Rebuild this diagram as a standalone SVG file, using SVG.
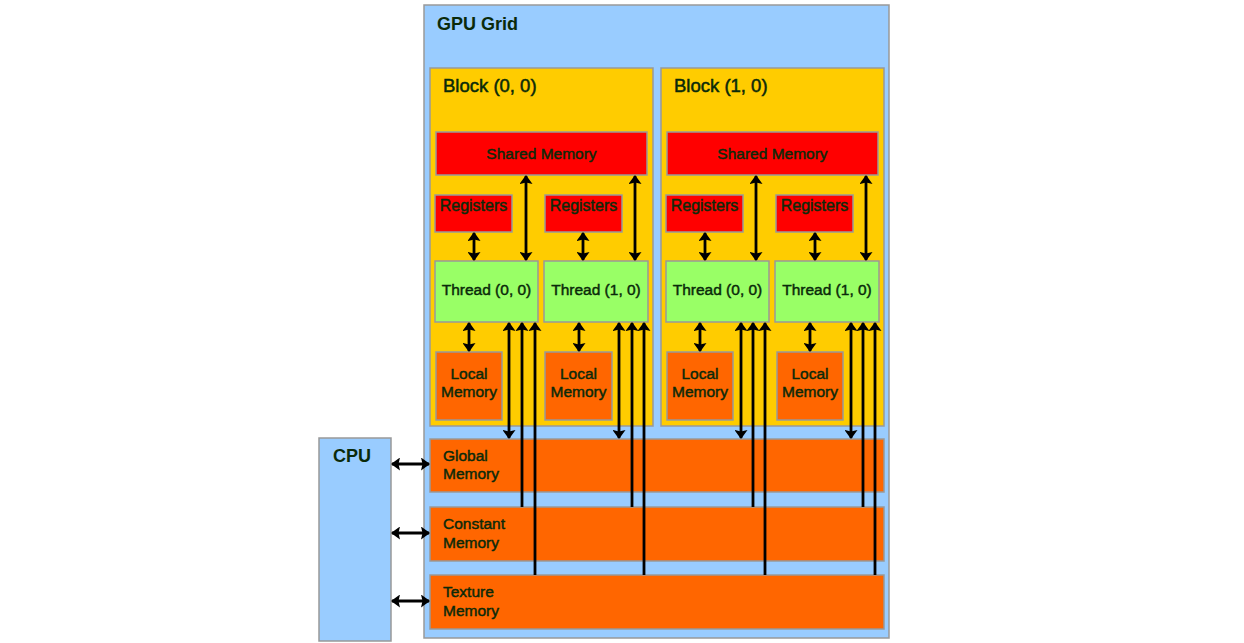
<svg xmlns="http://www.w3.org/2000/svg" width="1244" height="643" viewBox="0 0 1244 643">
<style>
.box{stroke:#999999;stroke-width:1.5}
.grid{fill:#99CCFF}
.block{fill:#FFCC00}
.red{fill:#FF0000}
.thr{fill:#99FF66}
.org{fill:#FF6600}
text{font-family:"Liberation Sans",Arial,sans-serif;fill:#0a2a0a}
.t{font-size:15.5px;stroke:#0a2a0a;stroke-width:0.45}
.c{text-anchor:middle}
.h{font-size:18px;font-weight:bold}
.bl{font-size:18.5px;stroke:#0a2a0a;stroke-width:0.5}
.a{stroke:#000;stroke-width:2.8;fill:none}
.d{marker-start:url(#ah);marker-end:url(#ah)}
.u{marker-start:url(#ah)}
</style>
<defs>
<marker id="ah" viewBox="0 0 9 13" refX="8" refY="6.5" markerWidth="9" markerHeight="13" markerUnits="userSpaceOnUse" orient="auto-start-reverse">
<path d="M0,0 L9,6.5 L0,13 L1.5,6.5 z" fill="#000"/>
</marker>
</defs>
<rect width="1244" height="643" fill="#ffffff"/>
<g id="gpu-grid">
<rect class="box grid" x="424" y="5" width="465" height="633"/>
<text class="h" x="437" y="30">GPU Grid</text>
</g>
<g id="cpu">
<rect class="box grid" x="319" y="438" width="72" height="203"/>
<text class="h" x="333" y="462">CPU</text>
</g>
<g id="block-0-0">
<rect class="box block" x="430" y="68" width="223" height="358"/>
<text class="bl" x="443" y="92">Block (0, 0)</text>
</g>
<g id="block-1-0">
<rect class="box block" x="661" y="68" width="223" height="358"/>
<text class="bl" x="674" y="92">Block (1, 0)</text>
</g>
<g id="shared-0">
<rect class="box red" x="436" y="132" width="211" height="43"/>
<text class="t c" x="541.5" y="159">Shared Memory</text>
</g>
<g id="shared-1">
<rect class="box red" x="667" y="132" width="211" height="43"/>
<text class="t c" x="772.5" y="159">Shared Memory</text>
</g>
<g id="registers-0-0">
<rect class="box red" x="435" y="195" width="77" height="37"/>
<text class="t c" x="473.5" y="211" style="font-size:16px">Registers</text>
</g>
<g id="registers-0-1">
<rect class="box red" x="545" y="195" width="77" height="37"/>
<text class="t c" x="583.5" y="211" style="font-size:16px">Registers</text>
</g>
<g id="registers-1-0">
<rect class="box red" x="666" y="195" width="77" height="37"/>
<text class="t c" x="704.5" y="211" style="font-size:16px">Registers</text>
</g>
<g id="registers-1-1">
<rect class="box red" x="776" y="195" width="77" height="37"/>
<text class="t c" x="814.5" y="211" style="font-size:16px">Registers</text>
</g>
<g id="thread-0-0">
<rect class="box thr" x="435" y="261" width="103" height="61"/>
<text class="t c" x="486.5" y="295">Thread (0, 0)</text>
</g>
<g id="thread-0-1">
<rect class="box thr" x="544" y="261" width="104" height="61"/>
<text class="t c" x="596" y="295">Thread (1, 0)</text>
</g>
<g id="thread-1-0">
<rect class="box thr" x="666" y="261" width="103" height="61"/>
<text class="t c" x="717.5" y="295">Thread (0, 0)</text>
</g>
<g id="thread-1-1">
<rect class="box thr" x="775" y="261" width="104" height="61"/>
<text class="t c" x="827" y="295">Thread (1, 0)</text>
</g>
<g id="local-0-0">
<rect class="box org" x="436" y="352" width="66" height="68"/>
<text class="t c" x="469" y="379">Local</text>
<text class="t c" x="469" y="397">Memory</text>
</g>
<g id="local-0-1">
<rect class="box org" x="545" y="352" width="67" height="68"/>
<text class="t c" x="578.5" y="379">Local</text>
<text class="t c" x="578.5" y="397">Memory</text>
</g>
<g id="local-1-0">
<rect class="box org" x="667" y="352" width="66" height="68"/>
<text class="t c" x="700" y="379">Local</text>
<text class="t c" x="700" y="397">Memory</text>
</g>
<g id="local-1-1">
<rect class="box org" x="777" y="352" width="66" height="68"/>
<text class="t c" x="810" y="379">Local</text>
<text class="t c" x="810" y="397">Memory</text>
</g>
<g id="global-memory">
<rect class="box org" x="430" y="439" width="454" height="53"/>
<text class="t" x="443" y="461">Global</text>
<text class="t" x="443" y="479">Memory</text>
</g>
<g id="constant-memory">
<rect class="box org" x="430" y="507" width="454" height="54"/>
<text class="t" x="443" y="529">Constant</text>
<text class="t" x="443" y="548">Memory</text>
</g>
<g id="texture-memory">
<rect class="box org" x="430" y="575" width="454" height="54"/>
<text class="t" x="443" y="597">Texture</text>
<text class="t" x="443" y="616">Memory</text>
</g>
<g id="connectors">
<line class="a d" x1="392" y1="464" x2="429" y2="464"/>
<line class="a d" x1="392" y1="533" x2="429" y2="533"/>
<line class="a d" x1="392" y1="601" x2="429" y2="601"/>
<line class="a d" x1="474" y1="233" x2="474" y2="260"/>
<line class="a d" x1="583" y1="233" x2="583" y2="260"/>
<line class="a d" x1="705" y1="233" x2="705" y2="260"/>
<line class="a d" x1="815" y1="233" x2="815" y2="260"/>
<line class="a d" x1="526" y1="176" x2="526" y2="260"/>
<line class="a d" x1="635" y1="176" x2="635" y2="260"/>
<line class="a d" x1="756" y1="176" x2="756" y2="260"/>
<line class="a d" x1="866" y1="176" x2="866" y2="260"/>
<line class="a d" x1="469" y1="323" x2="469" y2="351"/>
<line class="a d" x1="579" y1="323" x2="579" y2="351"/>
<line class="a d" x1="700" y1="323" x2="700" y2="351"/>
<line class="a d" x1="810" y1="323" x2="810" y2="351"/>
<line class="a d" x1="509" y1="323" x2="509" y2="438"/>
<line class="a d" x1="619" y1="323" x2="619" y2="438"/>
<line class="a d" x1="741" y1="323" x2="741" y2="438"/>
<line class="a d" x1="851" y1="323" x2="851" y2="438"/>
<line class="a u" x1="522" y1="323" x2="522" y2="507"/>
<line class="a u" x1="632" y1="323" x2="632" y2="507"/>
<line class="a u" x1="753" y1="323" x2="753" y2="507"/>
<line class="a u" x1="863" y1="323" x2="863" y2="507"/>
<line class="a u" x1="535" y1="323" x2="535" y2="575"/>
<line class="a u" x1="644" y1="323" x2="644" y2="575"/>
<line class="a u" x1="765" y1="323" x2="765" y2="575"/>
<line class="a u" x1="875" y1="323" x2="875" y2="575"/>
</g>
</svg>
